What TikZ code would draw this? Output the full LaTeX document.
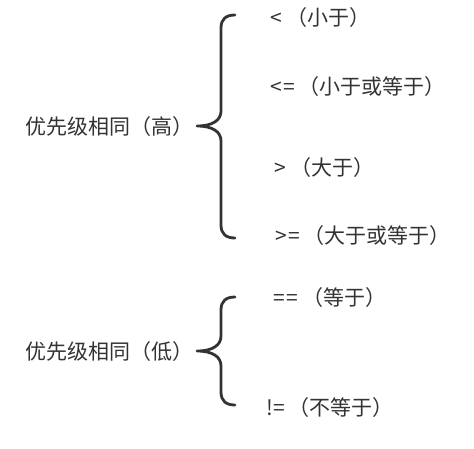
\documentclass[tikz,border=0pt]{standalone}
\usepackage{fontspec}
\setmainfont{Noto Sans CJK SC}
\definecolor{txt}{HTML}{333333}
\definecolor{brc}{HTML}{333333}
\begin{document}
\begin{tikzpicture}[x=1pt,y=-1pt,
  lbl/.style={anchor=west,inner sep=0pt,text=txt,font=\fontsize{21}{24}\selectfont},
  brace/.style={draw=brc,line width=2.8pt,line cap=round,line join=round}]
\useasboundingbox[fill=white] (0,0) rectangle (474,448);
% left labels
\node[lbl] (hi) at (25,127) {优先级相同（高）};
\node[lbl] (lo) at (25,352) {优先级相同（低）};
% right labels
\node[lbl] (r1) at (270,18) {< （小于）};
\node[lbl] (r2) at (270,87) {<\kern2pt= \kern-2pt（小于或等于）};
\node[lbl] (r3) at (274,168) {> （大于）};
\node[lbl] (r4) at (275,236) {>\kern2pt= \kern-2pt（大于或等于）};
\node[lbl] (r5) at (273,298) {=\kern2pt= \kern-1pt（等于）};
\node[lbl] (r6) at (266,408) {!\kern1pt= \kern-2pt（不等于）};
% brace 1
\coordinate (b1t) at (235,15);
\coordinate (b1m) at (197,126);
\coordinate (b1b) at (235,238);
\path[brace] (b1t) .. controls (226,15) and (221,19) .. (221,28) -- (221,111)
  .. controls (221,120) and (213,126) .. (b1m)
  .. controls (213,126) and (221,132) .. (221,141) -- (221,225)
  .. controls (221,234) and (226,238) .. (b1b);
% brace 2
\coordinate (b2t) at (235,297);
\coordinate (b2m) at (197,351);
\coordinate (b2b) at (235,405);
\path[brace] (b2t) .. controls (226,297) and (221,301) .. (221,310) -- (221,336)
  .. controls (221,345) and (213,351) .. (b2m)
  .. controls (213,351) and (221,357) .. (221,366) -- (221,392)
  .. controls (221,401) and (226,405) .. (b2b);
\end{tikzpicture}
\end{document}
